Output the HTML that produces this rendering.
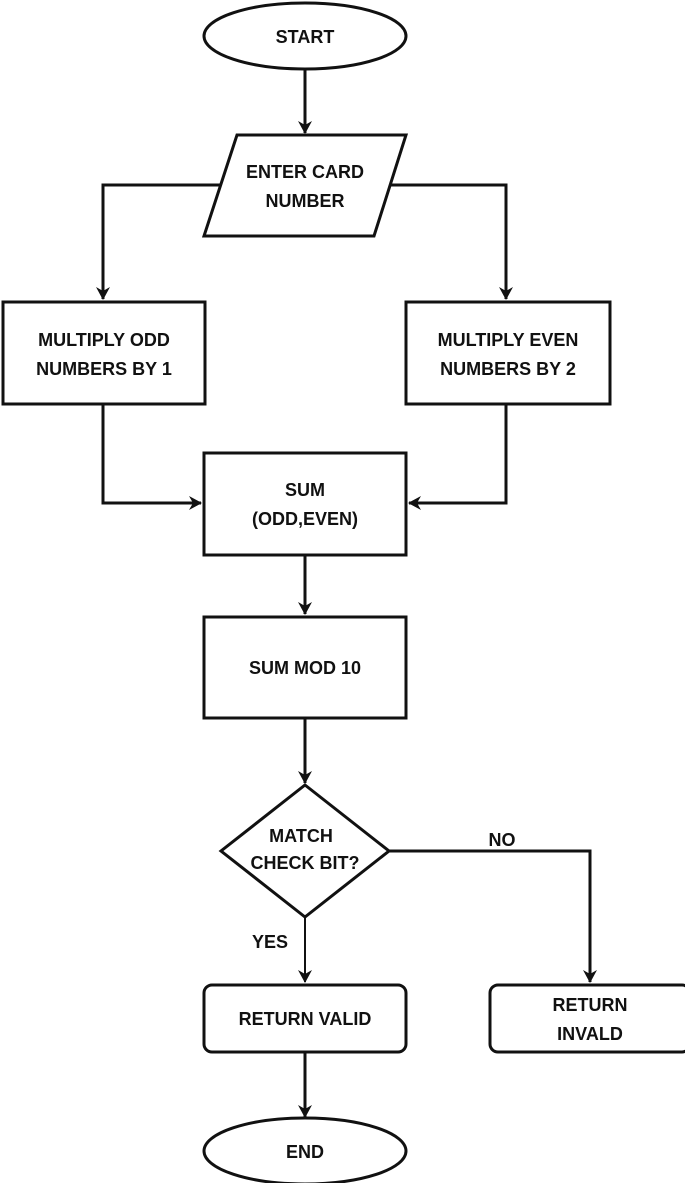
<!DOCTYPE html>
<html><head><meta charset="utf-8"><style>
html,body{margin:0;padding:0;background:#fff;}
svg{display:block;}
text{font-family:"Liberation Sans",Arial,sans-serif;font-weight:bold;font-size:18px;fill:#111;text-anchor:middle;}
</style></head><body>
<svg width="685" height="1183" viewBox="0 0 685 1183" xmlns="http://www.w3.org/2000/svg">
<defs>
<marker id="a" markerWidth="14" markerHeight="14" refX="12" refY="7" orient="auto" markerUnits="userSpaceOnUse">
<path d="M0,0 L13,7 L0,14 L4,7 Z" fill="#111"/>
</marker>
</defs>
<g stroke="#111" stroke-width="3" fill="none">
<ellipse cx="305" cy="36" rx="101" ry="33" fill="#fff"/>
<line x1="305" y1="69" x2="305" y2="133" marker-end="url(#a)"/>
<polygon points="237,135 406,135 374,236 204,236" fill="#fff"/>
<polyline points="220,185 103,185 103,299" marker-end="url(#a)"/>
<polyline points="390,185 506,185 506,299" marker-end="url(#a)"/>
<rect x="3" y="302" width="202" height="102" fill="#fff"/>
<rect x="406" y="302" width="204" height="102" fill="#fff"/>
<polyline points="103,404 103,503 201,503" marker-end="url(#a)"/>
<polyline points="506,404 506,503 409,503" marker-end="url(#a)"/>
<rect x="204" y="453" width="202" height="102" fill="#fff"/>
<line x1="305" y1="555" x2="305" y2="614" marker-end="url(#a)"/>
<rect x="204" y="617" width="202" height="101" fill="#fff"/>
<line x1="305" y1="718" x2="305" y2="783" marker-end="url(#a)"/>
<polygon points="305,785 389,851 305,917 221,851" fill="#fff"/>
<polyline points="389,851 590,851 590,982" marker-end="url(#a)"/>
<line x1="305" y1="917" x2="305" y2="982" stroke-width="2" marker-end="url(#a)"/>
<rect x="204" y="985" width="202" height="67" rx="8" fill="#fff"/>
<rect x="490" y="985" width="200" height="67" rx="8" fill="#fff"/>
<line x1="305" y1="1052" x2="305" y2="1117" marker-end="url(#a)"/>
<ellipse cx="305" cy="1151" rx="101" ry="33" fill="#fff"/>
</g>
<text x="305" y="43" font-size="20">START</text>
<text x="305" y="178">ENTER CARD</text>
<text x="305" y="207">NUMBER</text>
<text x="104" y="346">MULTIPLY ODD</text>
<text x="104" y="375">NUMBERS BY 1</text>
<text x="508" y="346">MULTIPLY EVEN</text>
<text x="508" y="375">NUMBERS BY 2</text>
<text x="305" y="496">SUM</text>
<text x="305" y="525">(ODD,EVEN)</text>
<text x="305" y="674">SUM MOD 10</text>
<text x="301" y="842">MATCH</text>
<text x="305" y="869">CHECK BIT?</text>
<text x="502" y="846">NO</text>
<text x="270" y="948">YES</text>
<text x="305" y="1025">RETURN VALID</text>
<text x="590" y="1011">RETURN</text>
<text x="590" y="1040">INVALD</text>
<text x="305" y="1158" font-size="20">END</text>
</svg>
</body></html>
